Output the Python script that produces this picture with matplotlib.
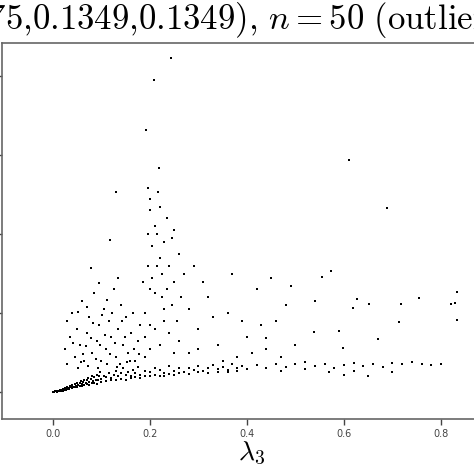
import matplotlib
matplotlib.use("Agg")
import matplotlib.pyplot as plt

plt.rcParams['mathtext.fontset'] = 'cm'

band = [(0.0,0.0),(0.005,0.01),(0.01,0.02),(0.012,0.015),(0.015,0.03),(0.018,0.02),(0.02,0.04),(0.022,0.03),(0.025,0.05),(0.028,0.04),(0.03,0.06),(0.033,0.05),(0.035,0.08),(0.038,0.06),(0.04,0.09),(0.042,0.07),(0.045,0.1),(0.048,0.08),(0.05,0.12),(0.052,0.09),(0.055,0.11),(0.058,0.14),(0.06,0.1),(0.062,0.13),(0.065,0.16),(0.068,0.12),(0.07,0.15),(0.073,0.18),(0.075,0.13),(0.078,0.17),(0.08,0.2),(0.083,0.14),(0.085,0.19),(0.088,0.16),(0.09,0.22),(0.093,0.15),(0.095,0.2),(0.098,0.25),(0.1,0.17),(0.105,0.21),(0.11,0.19),(0.115,0.24),(0.12,0.18),(0.125,0.22),(0.13,0.27),(0.135,0.2),(0.14,0.24),(0.145,0.3),(0.15,0.22),(0.155,0.26),(0.16,0.2),(0.165,0.28),(0.17,0.24),(0.175,0.32),(0.18,0.22),(0.19,0.27),(0.2,0.25),(0.21,0.3),(0.22,0.28),(0.23,0.24),(0.24,0.33),(0.25,0.27),(0.26,0.3),(0.27,0.25),(0.28,0.31),(0.29,0.28),(0.3,0.33),(0.31,0.27),(0.32,0.3),(0.33,0.34),(0.34,0.29),(0.35,0.32),(0.36,0.28),(0.37,0.35),(0.38,0.31),(0.39,0.33),(0.4,0.29),(0.42,0.34),(0.44,0.31),(0.46,0.36),(0.48,0.32),(0.5,0.35),(0.52,0.38),(0.54,0.33),(0.56,0.36),(0.58,0.3),(0.6,0.34),(0.62,0.37),(0.64,0.33),(0.66,0.36),(0.68,0.32),(0.7,0.37),(0.72,0.35),(0.74,0.38),(0.76,0.36),(0.78,0.34),(0.8,0.36),(0.6,0.22),(0.65,0.2),(0.57,0.25),(0.62,0.27),(0.7,0.26),(0.52,0.29),(0.47,0.27),
(0.003,0.005),(0.007,0.012),(0.009,0.008),(0.014,0.02),(0.016,0.025),(0.02,0.015),(0.024,0.035),(0.027,0.03),(0.03,0.045),(0.034,0.04),(0.04,0.05),(0.045,0.06),(0.05,0.07),(0.055,0.08),(0.06,0.075),(0.065,0.09),(0.07,0.1),(0.075,0.09),(0.08,0.11),(0.085,0.12),(0.09,0.1),(0.1,0.13),(0.11,0.14),(0.12,0.15),(0.13,0.16),(0.14,0.17),(0.15,0.16),(0.16,0.18),(0.17,0.19),(0.18,0.18),(0.19,0.2),(0.2,0.21),(0.21,0.22),(0.22,0.2),(0.23,0.21),(0.24,0.23),(0.25,0.22),(0.26,0.24),(0.28,0.23),(0.3,0.25),(0.32,0.24),(0.34,0.26),(0.36,0.25),(0.38,0.27)]

cloud = [(0.025,0.55),(0.03,0.9),(0.035,0.7),(0.04,1.0),(0.045,0.45),(0.05,0.8),(0.055,0.6),(0.06,1.15),(0.065,0.4),(0.07,0.75),(0.075,0.95),(0.08,0.5),(0.085,1.25),(0.09,0.65),(0.095,0.85),(0.1,0.4),(0.105,1.05),(0.11,0.55),(0.115,0.9),(0.12,0.7),(0.125,1.3),(0.13,0.45),(0.135,0.8),(0.14,1.1),(0.145,0.6),(0.15,0.95),(0.155,0.5),(0.16,0.75),(0.165,1.0),(0.17,0.4),(0.175,0.65),(0.18,0.85),(0.028,0.35),(0.042,0.62),(0.058,0.38),(0.068,0.58),(0.078,0.68),(0.088,0.42),(0.098,0.6),(0.108,0.72),(0.118,0.48),(0.128,0.62),(0.138,0.35),(0.148,0.7),(0.158,0.4),(0.168,0.55),(0.178,0.48),(0.052,0.3),(0.072,0.33),(0.092,0.3),(0.112,0.36),(0.132,0.32),(0.152,0.38),(0.062,0.48),(0.082,0.88),(0.102,0.98),(0.122,1.0),(0.142,0.9),(0.096,1.38),(0.112,1.17),(0.135,1.45),(0.07,1.08),(0.052,1.02)]

spike = [(0.19,1.0),(0.2,1.3),(0.195,1.6),(0.205,1.85),(0.21,2.1),(0.2,2.3),(0.215,2.0),(0.22,1.7),(0.225,1.5),(0.23,1.9),(0.235,1.3),(0.24,1.6),(0.245,1.1),(0.25,1.4),(0.255,0.9),(0.26,1.75),(0.265,1.2),(0.19,0.7),(0.2,0.55),(0.21,0.8),(0.22,0.6),(0.23,0.9),(0.24,0.75),(0.25,0.5),(0.26,0.65),(0.185,1.4),(0.195,2.0),(0.205,1.45),(0.215,1.6),(0.225,1.2),(0.235,2.2),(0.245,1.95),(0.2,2.45),(0.21,1.25),(0.23,1.05),(0.19,0.45),(0.2,0.85),(0.22,2.35),(0.25,2.05),(0.27,1.5)]

middle = [(0.28,0.5),(0.3,0.8),(0.32,1.2),(0.34,0.6),(0.36,1.0),(0.38,0.45),(0.4,0.7),(0.42,1.3),(0.44,0.55),(0.46,0.9),(0.48,1.1),(0.5,0.6),(0.29,1.6),(0.31,1.4),(0.35,0.4),(0.37,1.5),(0.39,0.9),(0.41,0.5),(0.43,0.85),(0.45,1.45),(0.47,0.45),(0.49,1.35),(0.33,0.95),(0.28,1.05),(0.3,0.55),(0.44,0.68)]

outliers = [(0.243,4.23),(0.208,3.95),(0.192,3.32),(0.219,2.84),(0.61,2.94),(0.688,2.33),(0.196,2.58),(0.216,2.53),(0.13,2.53),(0.118,1.92),(0.078,1.57),(0.555,1.46),(0.573,1.53),(0.54,1.15),(0.627,1.18),(0.619,1.06),(0.652,1.11),(0.717,1.11),(0.755,1.19),(0.82,1.11),(0.829,1.13),(0.833,1.27),(0.833,0.91),(0.538,0.76),(0.59,0.77),(0.713,0.89),(0.67,0.67),(0.598,0.56)]

pts = band + cloud + spike + middle + outliers
xs = [p[0] for p in pts]
ys = [p[1] for p in pts]

fig = plt.figure(figsize=(4.74, 4.74), dpi=100)
ax = fig.add_axes([2/474, 1-419/474, 500/474, 376/474])
ax.scatter(xs, ys, s=0.9, c='black', marker='s', linewidths=0)
ax.set_xlim(-0.105, -0.105 + 500/485)
ax.set_ylim(-0.34, 4.42)
ax.set_xticks([0.0, 0.2, 0.4, 0.6, 0.8])
ax.set_xticklabels(['0.0', '0.2', '0.4', '0.6', '0.8'])
ax.set_yticks([0, 1, 2, 3, 4])
ax.set_yticklabels([])
ax.tick_params(labelsize=7, colors='#444444', length=4, width=1)
for s in ax.spines.values():
    s.set_color('#666666'); s.set_linewidth(1.2)
ax.set_xlabel(r'$\lambda_3$', fontsize=20, labelpad=0)
fig.text(-0.237, 0.958, r'$\lambda=\mathrm{(0.75{,}0.1349{,}0.1349)},\,n=50\ \mathrm{(outliers)}$',
         fontsize=25, ha='left', va='center')
fig.savefig('out.png', dpi=100)
